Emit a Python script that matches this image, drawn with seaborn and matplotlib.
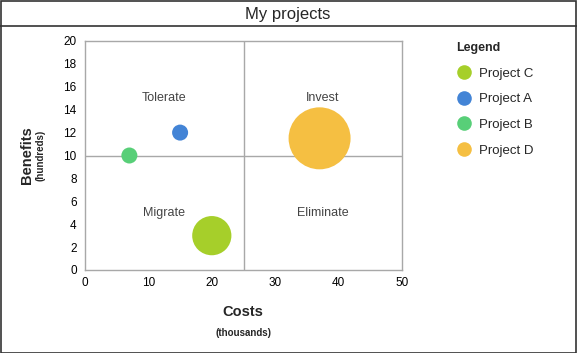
import matplotlib
matplotlib.use("Agg")
import matplotlib.pyplot as plt
from matplotlib.lines import Line2D
import seaborn as sns
import pandas as pd

projects = ["Project C", "Project A", "Project B", "Project D"]
costs = [20, 15, 7, 37]
benefits = [3, 12, 10, 11.5]
bubble = [6, 1, 1, 15]
colors = ["#A6CF2A", "#4384D6", "#58CF78", "#F5BF42"]
quadrants = ["Tolerate", "Invest", "Migrate", "Eliminate"]
quad_x = [12.5, 37.5, 12.5, 37.5]
quad_y = [15, 15, 5, 5]
xticks = [0, 10, 20, 30, 40, 50]
yticks = [0, 2, 4, 6, 8, 10, 12, 14, 16, 18, 20]

df = pd.DataFrame({"Project": projects, "Costs": costs, "Benefits": benefits, "Size": bubble})

sns.set_theme(style="white")
plt.rcParams["font.family"] = ["Liberation Sans", "DejaVu Sans"]

fig = plt.figure(figsize=(5.77, 3.53), dpi=100)
ax = fig.add_axes([85/577, 1-270/353, 317/577, 229/353])

sns.scatterplot(data=df, x="Costs", y="Benefits", hue="Project", hue_order=projects,
                palette=colors, size="Size", sizes=(133, 1992), legend=False,
                linewidth=0, alpha=1, ax=ax, zorder=3)

ax.set_xlim(0, 50)
ax.set_ylim(0, 20)
ax.set_xticks(xticks)
ax.set_yticks(yticks)
ax.tick_params(axis="both", labelsize=8.5, colors="#000000", length=0)
ax.tick_params(axis="y", pad=6)
ax.tick_params(axis="x", pad=5)
for s in ax.spines.values():
    s.set_color("#A8A8A8")
    s.set_linewidth(1)
ax.axvline(25, color="#A8A8A8", lw=1, zorder=1)
ax.axhline(10, color="#A8A8A8", lw=1, zorder=1)
ax.set_xlabel("")
ax.set_ylabel("")

for q, qx, qy in zip(quadrants, quad_x, quad_y):
    ax.text(qx, qy, q, ha="center", va="center", fontsize=9, color="#444444", zorder=2)

# axis titles
fig.text(243/577, 1-312/353, "Costs", ha="center", va="center", fontsize=10.5, fontweight="bold")
fig.text(243/577, 1-333/353, "(thousands)", ha="center", va="center", fontsize=7, fontweight="bold")
fig.text(27/577, 1-155/353, "Benefits", ha="center", va="center", fontsize=10.5, fontweight="bold", rotation=90)
fig.text(41/577, 1-155/353, "(hundreds)", ha="center", va="center", fontsize=7, fontweight="bold", rotation=90)

# title
fig.text(288/577, 1-14/353, "My projects", ha="center", va="center", fontsize=12)
fig.add_artist(Line2D([0, 1], [1-26/353, 1-26/353], color="#333333", lw=1.2, transform=fig.transFigure))
fig.add_artist(plt.Rectangle((0.5/577, 0.5/353), 1-1.5/577, 1-1.5/353, fill=False,
                             edgecolor="#333333", lw=1.2, transform=fig.transFigure))

# legend
handles = [Line2D([], [], marker="o", linestyle="", markersize=10.5, markerfacecolor=c,
                  markeredgewidth=0) for c in colors]
leg = fig.legend(handles, projects, title="Legend", loc="upper left",
                 bbox_to_anchor=(444/577, 1-30/353), frameon=False, fontsize=9.5,
                 labelspacing=1.02, handletextpad=0.55, handlelength=1.2)
leg.get_title().set_fontweight("bold")
leg.get_title().set_fontsize(9)
leg._legend_box.align = "left"

fig.savefig("out.png", dpi=100)
